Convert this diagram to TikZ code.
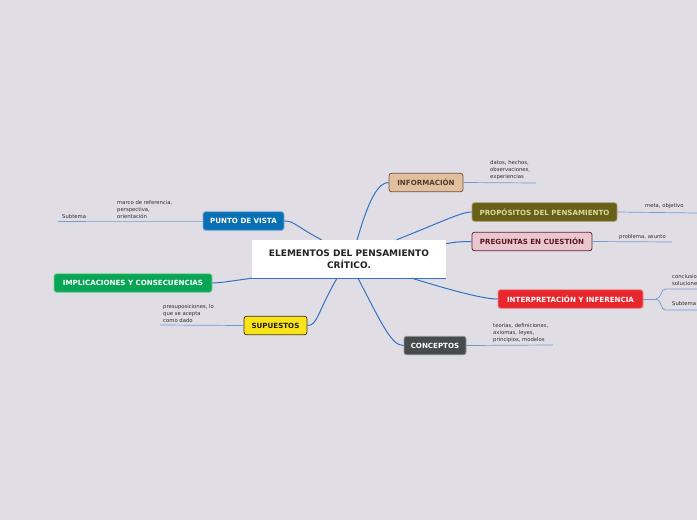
\documentclass[tikz,border=0pt]{standalone}
\usepackage{fontspec}
\setmainfont{DejaVu Sans}
\definecolor{fondo}{RGB}{224,221,228}
\definecolor{linea}{RGB}{50,115,195}
\definecolor{sublinea}{RGB}{115,155,210}
\definecolor{notagris}{RGB}{45,45,45}

\begin{document}
\begin{tikzpicture}[x=1pt,y=-1pt,
	rama/.style={draw=linea,line width=1pt},
	subrama/.style={draw=sublinea,line width=0.7pt},
	tema/.style={rounded corners=2.5pt,line width=0.8pt,inner sep=0pt,minimum height=18.5pt,font=\fontsize{7.1}{8}\selectfont\bfseries},
	nota/.style={anchor=south west,align=left,inner sep=0pt,font=\fontsize{5.3}{7}\selectfont,text=notagris}]
					\path[fill=fondo,use as bounding box] (0,0) rectangle (697,520);
					\clip (0,0) rectangle (697,520);
					
					%CENTRO
					\node[fill=white,minimum width=194pt,minimum height=38pt,inner sep=0pt,align=center,text={rgb,255:red,35;green,35;blue,35},font=\fontsize{9}{12}\selectfont\bfseries] (central) at (349,259) {ELEMENTOS DEL PENSAMIENTO\\CRÍTICO.};
					\draw[rama] (central.south west) -- (central.south east);
					
					%TEMAS
					\node[tema,fill={rgb,255:red,226;green,191;blue,158},draw={rgb,255:red,110;green,85;blue,65},text={rgb,255:red,80;green,60;blue,45},minimum width=74pt] (info) at (426,182.5) {INFORMACIÓN};
					\node[tema,fill={rgb,255:red,104;green,96;blue,25},draw={rgb,255:red,165;green,155;blue,95},text={rgb,255:red,220;green,214;blue,160},minimum width=145pt] (propositos) at (544.5,212) {PROPÓSITOS DEL PENSAMIENTO};
					\node[tema,fill={rgb,255:red,232;green,200;blue,206},draw={rgb,255:red,110;green,30;blue,45},text={rgb,255:red,95;green,20;blue,35},minimum width=120pt] (preguntas) at (532,241.5) {PREGUNTAS EN CUESTIÓN};
					\node[tema,fill={rgb,255:red,232;green,38;blue,45},draw={rgb,255:red,240;green,130;blue,130},text=white,minimum width=145pt] (interp) at (570.5,299) {INTERPRETACIÓN Y INFERENCIA};
					\node[tema,fill={rgb,255:red,70;green,75;blue,75},draw={rgb,255:red,150;green,150;blue,150},text=white,minimum width=62pt] (conceptos) at (435,345.5) {CONCEPTOS};
					\node[tema,fill={rgb,255:red,10;green,112;blue,180},draw={rgb,255:red,120;green,170;blue,220},text=white,minimum width=81pt] (punto) at (243.5,221) {PUNTO DE VISTA};
					\node[tema,fill={rgb,255:red,8;green,165;blue,85},draw={rgb,255:red,120;green,210;blue,150},text=white,minimum width=158pt] (implic) at (133,283) {IMPLICACIONES Y CONSECUENCIAS};
					\node[tema,fill={rgb,255:red,250;green,228;blue,25},draw={rgb,255:red,60;green,55;blue,20},text={rgb,255:red,30;green,30;blue,10},minimum width=63pt] (supuestos) at (275.5,325.5) {SUPUESTOS};
					
					%RAMAS
					\draw[rama] (central.67) .. controls +(12,-42) and +(-10,0) .. (info.west);
					\draw[rama] (central.22) .. controls +(50,-20) and +(-10,0) .. (propositos.west);
					\draw[rama] (central.9) .. controls +(12,-2) and +(-8,0) .. (preguntas.west);
					\draw[rama] (central.-17) .. controls +(55,17) and +(-10,0) .. (interp.west);
					\draw[rama] (central.-65) .. controls +(25,48) and +(-12,0) .. (conceptos.west);
					\draw[rama] (central.238) .. controls +(-20,35) and +(10,0) .. (supuestos.east);
					\draw[rama] (central.145) .. controls +(-25,-13) and +(10,0) .. (punto.east);
					\draw[rama] (central.south west) .. controls +(-15,2) and +(8,0) .. (implic.east);
					
					%SUBTEMAS
					\coordinate (datosfin) at (536,183);
					\coordinate (metafin) at (697,213);
					\coordinate (problemafin) at (672,242);
					\coordinate (bif) at (656,299);
					\coordinate (conclfin) at (697,289);
					\coordinate (subtemafin) at (697,310);
					\coordinate (teoriasfin) at (553,345);
					\coordinate (marcofin) at (113,221);
					\coordinate (subtemaizq) at (58,221);
					\coordinate (presupfin) at (160,325);
					
					\draw[subrama] (info.east) -- (datosfin);
					\draw[subrama] (propositos.east) -- (metafin);
					\draw[subrama] (preguntas.east) -- (problemafin);
					\draw[subrama] (interp.east) -- (bif);
					\draw[subrama] (bif) .. controls +(5,0) and +(-4,0) .. ++(9,-10) -- (conclfin);
					\draw[subrama] (bif) .. controls +(5,0) and +(-4,0) .. ++(9,11) -- (subtemafin);
					\draw[subrama] (conceptos.east) -- (teoriasfin);
					\draw[subrama] (punto.west) -- (marcofin) -- (subtemaizq);
					\draw[subrama] (supuestos.west) -- (presupfin);
					
					\node[nota] (datos) at (490,180) {datos, hechos,\\observaciones,\\experiencias};
					\node[nota] (meta) at (645,209) {meta, objetivo};
					\node[nota] (problema) at (619,240) {problema, asunto};
					\node[nota] (conclu) at (672,286) {conclusiones,\\soluciones};
					\node[nota] (subtema1) at (672,306) {Subtema};
					\node[nota] (teorias) at (493,343) {teorías, definiciones,\\axiomas, leyes,\\principios, modelos};
					\node[nota] (marco) at (117,219) {marco de referencia,\\perspectiva,\\orientación};
					\node[nota] (subtema2) at (62,219) {Subtema};
					\node[nota] (presup) at (163,323) {presuposiciones, lo\\que se acepta\\como dado};
					
				  \end{tikzpicture}
\end{document}
